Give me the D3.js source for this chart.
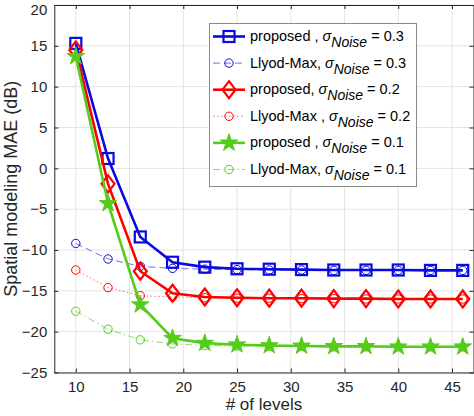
<!DOCTYPE html>
<html><head><meta charset="utf-8">
<script src="https://cdn.jsdelivr.net/npm/d3@7"></script>
<style>body{margin:0;background:#fff}svg{display:block}text{font-family:"Liberation Sans",Arial,sans-serif}</style>
</head><body><svg id="c" width="474" height="416"></svg>
<script>
const levels = [10,13,16,19,22,25,28,31,34,37,40,43,46];
const prop03 = [15.3,1.2,-8.4,-11.5,-12.1,-12.3,-12.35,-12.4,-12.45,-12.45,-12.45,-12.5,-12.5];
const lm03   = [-9.2,-11.1,-12.0,-12.25,-12.35,-12.4,-12.45,-12.45,-12.5,-12.5,-12.5,-12.5,-12.5];
const prop02 = [14.5,-1.9,-12.6,-15.3,-15.75,-15.85,-15.9,-15.9,-15.95,-15.95,-16.0,-16.0,-16.0];
const lm02   = [-12.45,-14.6,-15.6,-15.75,-15.85,-15.9,-15.9,-15.95,-15.95,-16.0,-16.0,-16.0,-16.0];
const prop01 = [13.7,-4.3,-16.7,-20.8,-21.4,-21.6,-21.7,-21.75,-21.8,-21.8,-21.85,-21.85,-21.85];
const lm01   = [-17.5,-19.7,-21.0,-21.5,-21.7,-21.75,-21.8,-21.8,-21.85,-21.85,-21.85,-21.85,-21.85];
const xTicks = [10,15,20,25,30,35,40,45];
const yTicks = [20,15,10,5,0,-5,-10,-15,-20,-25];
const legendLabels = [
  ["proposed , ","0.3"],["Llyod-Max, ","0.3"],["proposed, ","0.2"],
  ["Llyod-Max , ","0.2"],["proposed , ","0.1"],["Llyod-Max, ","0.1"]];

const svg = d3.select("#c");
const L=54.3,R=473.5,T=5,B=372.5;
const x = d3.scaleLinear().domain([8,47]).range([L,R]);
const y = d3.scaleLinear().domain([-25,20]).range([B,T]);

// grid
const g = svg.append("g");
g.selectAll(".gx").data(xTicks).enter().append("line")
 .attr("x1",d=>x(d)).attr("x2",d=>x(d)).attr("y1",T).attr("y2",B)
 .attr("stroke","#e3e3e3").attr("stroke-width",1);
g.selectAll(".gy").data(yTicks).enter().append("line")
 .attr("y1",d=>y(d)).attr("y2",d=>y(d)).attr("x1",L).attr("x2",R)
 .attr("stroke","#e3e3e3").attr("stroke-width",1);

const fmt = d=> d<0 ? "\u2212"+Math.abs(d) : ""+d;
const ax = svg.append("g").attr("transform",`translate(0,${B})`)
 .call(d3.axisBottom(x).tickValues(xTicks).tickFormat(fmt).tickSizeInner(-4).tickSizeOuter(0).tickPadding(9));
const ay = svg.append("g").attr("transform",`translate(${L},0)`)
 .call(d3.axisLeft(y).tickValues(yTicks).tickFormat(fmt).tickSizeInner(-4).tickSizeOuter(0).tickPadding(7));
const axT = svg.append("g").attr("transform",`translate(0,${T})`)
 .call(d3.axisTop(x).tickValues(xTicks).tickFormat("").tickSizeInner(-4).tickSizeOuter(0));
const ayR = svg.append("g").attr("transform",`translate(${R},0)`)
 .call(d3.axisRight(y).tickValues(yTicks).tickFormat("").tickSizeInner(-4).tickSizeOuter(0));
[ax,ay,axT,ayR].forEach(a=>{a.selectAll("path").attr("stroke","#262626");a.selectAll("line").attr("stroke","#262626");
 a.selectAll("text").attr("fill","#262626").style("font-size","15px").style("font-family","Liberation Sans, Arial, sans-serif");});
ay.selectAll(".tick").filter(d=>d===20).select("text").attr("dy","0.62em");

svg.append("text").attr("x",(L+R)/2).attr("y",410).attr("text-anchor","middle")
 .attr("fill","#262626").style("font-size","17px").text("# of levels");
svg.append("text").attr("transform",`translate(17,${(T+B)/2}) rotate(-90)`).attr("text-anchor","middle")
 .attr("fill","#262626").style("font-size","18px").text("Spatial modeling MAE (dB)");

const BLUE="#0a0ae0", RED="#ff0000", GREEN="#55cc1a";
const series = [
 {v:lm03, c:BLUE, lc:"#7070f0", w:1, dash:"7,4", m:"circle"},
 {v:lm02, c:RED, lc:"#ff7070", w:1, dash:"1.5,2.5", m:"circle"},
 {v:lm01, c:GREEN, lc:"#90dd70", w:1, dash:"7,3,1.5,3", m:"circle"},
 {v:prop03, c:BLUE, lc:BLUE, w:2.6, dash:null, m:"square"},
 {v:prop02, c:RED, lc:RED, w:2.6, dash:null, m:"diamond"},
 {v:prop01, c:GREEN, lc:GREEN, w:2.6, dash:null, m:"star"},
];
const line = d3.line().x((d,i)=>x(levels[i])).y(d=>y(d));
function marker(sel, type, color, cx, cy){
  if(type==="circle") sel.append("circle").attr("cx",cx).attr("cy",cy).attr("r",4.2).attr("fill","none").attr("stroke",color).attr("stroke-width",1);
  else if(type==="square") sel.append("rect").attr("x",cx-5.5).attr("y",cy-5.5).attr("width",11).attr("height",11).attr("fill","none").attr("stroke",color).attr("stroke-width",2.2);
  else if(type==="diamond") sel.append("path").attr("d",`M${cx},${cy-8.5}L${cx+6.5},${cy}L${cx},${cy+8.5}L${cx-6.5},${cy}Z`).attr("fill","none").attr("stroke",color).attr("stroke-width",2.2);
  else if(type==="star") sel.append("path").attr("d",d3.symbol().type(d3.symbolStar).size(95)()).attr("transform",`translate(${cx},${cy})`).attr("fill",color).attr("stroke",color).attr("stroke-width",1);
}
const plot = svg.append("g");
series.forEach(s=>{
  plot.append("path").datum(s.v).attr("d",line).attr("fill","none").attr("stroke",s.lc)
   .attr("stroke-width",s.w).attr("stroke-dasharray",s.dash);
  s.v.forEach((v,i)=>marker(plot,s.m,s.c,x(levels[i]),y(v)));
});

// legend
const lg = svg.append("g");
lg.append("rect").attr("x",209.5).attr("y",23.5).attr("width",207).attr("height",163)
 .attr("fill","#fff").attr("stroke","#8a8a8a").attr("stroke-width",1);
const order = [3,0,4,1,5,2];
order.forEach((si,k)=>{
  const s = series[si]; const cy = 36.5 + k*26.6;
  lg.append("line").attr("x1",213).attr("x2",245).attr("y1",cy).attr("y2",cy)
   .attr("stroke",s.lc).attr("stroke-width",s.w).attr("stroke-dasharray",s.dash);
  marker(lg,s.m,s.c,229,cy);
  const t = lg.append("text").attr("x",250).attr("y",cy+4.5).attr("fill","#000").style("font-size","14.5px");
  t.append("tspan").text(legendLabels[k][0]);
  t.append("tspan").style("font-style","italic").text("σ");
  t.append("tspan").attr("dy",6).style("font-style","italic").style("font-size","14px").text("Noise");
  t.append("tspan").attr("dy",-6).text(" = "+legendLabels[k][1]);
});
</script></body></html>
